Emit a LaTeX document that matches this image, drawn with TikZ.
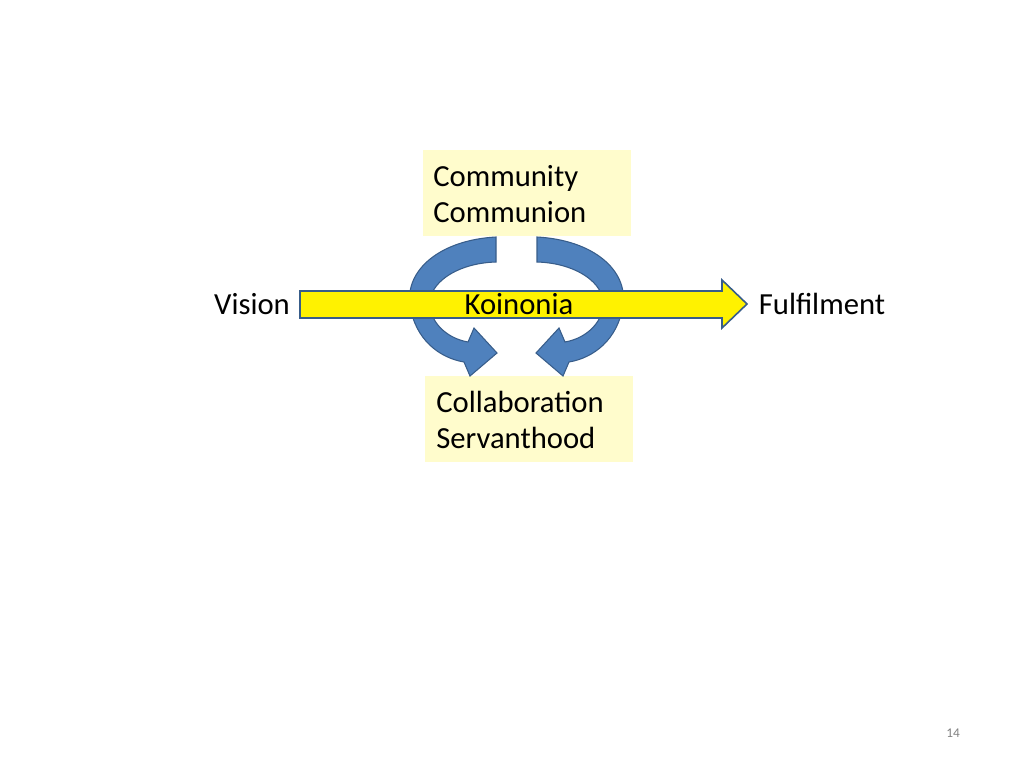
\documentclass[tikz,border=0pt]{standalone}
\usepackage{fontspec}
\setmainfont{Carlito}
\begin{document}
\begin{tikzpicture}[x=0.75pt,y=-0.75pt,
  lbl/.style={font=\fontsize{23}{27}\selectfont,inner sep=0pt},
  box/.style={fill=yellow!20!white,draw=none,anchor=north west,minimum width=156pt,minimum height=64pt},
  barrow/.style={fill={rgb,255:red,79;green,129;blue,189},draw={rgb,255:red,56;green,93;blue,138},line width=0.8pt}]
\useasboundingbox (0,0) rectangle (1024,768);
\node[box] (top) at (423,150) {};
\node[box] (bot) at (425,376) {};
\node[lbl,anchor=west,align=left] (toptxt) at (433,194) {Community\\Communion};
\node[lbl,anchor=west,align=left] (bottxt) at (436,420) {Collaboration\\Servanthood};
\def\larrow{(496,237) .. controls (440,240) and (405,270) .. (410,305) .. controls (415,340) and (440,358) .. (464,362) -- (470,376) -- (497,353) -- (474,328) -- (468,342) .. controls (445,338) and (428,320) .. (430,300) .. controls (433,280) and (460,263) .. (496,262) -- cycle}
\draw[barrow] \larrow;
\begin{scope}[xshift=1033*0.75pt,xscale=-1]
\draw[barrow] \larrow;
\end{scope}
\draw[fill=yellow,draw={rgb,255:red,56;green,93;blue,138},line width=1.2pt]
  (300,291) -- (722,291) -- (722,280) -- (747,304) -- (722,328) -- (722,318) -- (300,318) -- cycle;
\node[lbl] (koin) at (519,304) {Koinonia};
\node[lbl] (vision) at (252,304) {Vision};
\node[lbl] (ful) at (822,304) {Fulfilment};
\node[inner sep=0pt,font=\fontsize{10}{12}\selectfont,text=gray] (num) at (953,733) {14};
\end{tikzpicture}
\end{document}
